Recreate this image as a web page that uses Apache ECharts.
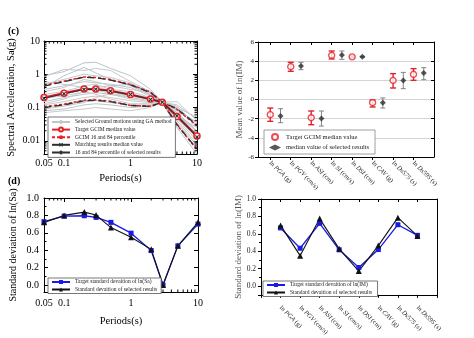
<!DOCTYPE html>
<html><head><meta charset="utf-8">
<script src="https://cdn.jsdelivr.net/npm/echarts@6/dist/echarts.min.js"></script>
<style>html,body{margin:0;padding:0;background:#fff}#c{width:474px;height:338px}</style>
</head><body><div id="c"></div>
<script>
// ---------- DATA ----------
const periods = [0.05, 0.1, 0.2, 0.3, 0.5, 1, 2, 3, 5, 10];
const targetMedian = [0.2, 0.27, 0.36, 0.36, 0.32, 0.245, 0.18, 0.145, 0.054, 0.014];
const target84 = [0.46, 0.62, 0.83, 0.8, 0.69, 0.49, 0.29, 0.145, 0.088, 0.028];
const target16 = [0.105, 0.126, 0.166, 0.17, 0.155, 0.115, 0.11, 0.145, 0.03, 0.0054];
const selMedian = [0.19, 0.26, 0.35, 0.355, 0.31, 0.245, 0.175, 0.145, 0.056, 0.013];
const sel84 = [0.44, 0.6, 0.82, 0.78, 0.67, 0.48, 0.28, 0.145, 0.092, 0.03];
const sel16 = [0.1, 0.12, 0.16, 0.165, 0.15, 0.115, 0.108, 0.145, 0.031, 0.0056];
const groundMotions = [
  [0.9, 1.2, 2.2, 2.3, 1.5, 0.9, 0.35, 0.145, 0.05, 0.012],
  [0.85, 1.4, 1.3, 1.5, 1.3, 0.6, 0.3, 0.145, 0.06, 0.02],
  [0.5, 0.7, 1.0, 0.9, 0.8, 0.55, 0.25, 0.145, 0.08, 0.03],
  [0.35, 0.45, 0.6, 0.55, 0.5, 0.4, 0.22, 0.145, 0.1, 0.05],
  [0.25, 0.3, 0.45, 0.5, 0.35, 0.3, 0.2, 0.145, 0.07, 0.02],
  [0.2, 0.22, 0.3, 0.35, 0.3, 0.22, 0.17, 0.145, 0.04, 0.008],
  [0.15, 0.2, 0.25, 0.28, 0.25, 0.2, 0.16, 0.145, 0.09, 0.035],
  [0.12, 0.15, 0.2, 0.22, 0.2, 0.16, 0.14, 0.145, 0.03, 0.006],
  [0.1, 0.12, 0.15, 0.16, 0.14, 0.12, 0.12, 0.145, 0.12, 0.045],
  [0.08, 0.09, 0.12, 0.13, 0.12, 0.1, 0.11, 0.145, 0.025, 0.004],
  [0.07, 0.08, 0.09, 0.1, 0.09, 0.08, 0.1, 0.145, 0.065, 0.015],
  [0.3, 0.4, 0.7, 0.6, 0.45, 0.35, 0.28, 0.145, 0.045, 0.01],
  [0.18, 0.25, 0.35, 0.4, 0.45, 0.5, 0.3, 0.145, 0.055, 0.025],
  [0.6, 0.5, 0.4, 0.35, 0.25, 0.18, 0.15, 0.145, 0.035, 0.007],
  [0.13, 0.18, 0.3, 0.25, 0.18, 0.13, 0.13, 0.145, 0.15, 0.04],
  [0.4, 0.9, 1.6, 1.1, 0.7, 0.45, 0.24, 0.145, 0.07, 0.018],
  [0.09, 0.11, 0.14, 0.2, 0.26, 0.22, 0.19, 0.145, 0.11, 0.028]
];
const imNames = ['ln PGA (g)', 'ln PGV (cm/s)', 'ln ASI (cm)', 'ln SI (cm/s)', 'ln DSI (cm)', 'ln CAV (g)', 'ln Ds575 (s)', 'ln Ds595 (s)'];
const targetMean = [-1.58, 3.43, -1.9, 4.61, 4.45, -0.33, 2.0, 2.63];
const targetLow = [-2.28, 2.94, -2.63, 4.23, 4.35, -0.78, 1.2, 2.0];
const targetHigh = [-0.89, 3.88, -1.2, 5.06, 4.55, -0.05, 2.7, 3.22];
const selMean = [-1.72, 3.5, -1.97, 4.64, 4.45, -0.33, 1.97, 2.77];
const selLow = [-2.42, 3.11, -2.77, 4.19, 4.4, -0.89, 1.13, 2.07];
const selHigh = [-0.96, 3.88, -1.2, 5.06, 4.5, 0.16, 2.83, 3.32];
const sdTargetSa = [0.728, 0.792, 0.796, 0.777, 0.72, 0.596, 0.396, 0.0, 0.45, 0.70];
const sdSelSa = [0.72, 0.8, 0.838, 0.804, 0.66, 0.55, 0.41, 0.0, 0.45, 0.72];
const sdTargetIM = [0.668, 0.435, 0.72, 0.417, 0.214, 0.42, 0.705, 0.583];
const sdSelIM = [0.697, 0.35, 0.775, 0.428, 0.173, 0.465, 0.786, 0.576];
const cTicksX = [0.05, 0.1, 1, 10];
const cTicksY = [0.01, 0.1, 1, 10];

// ---------- HELPERS ----------
const F = 'Liberation Serif';
const RED = '#e3222a', DARK = '#2e2e2e', BLUE = '#1a1ae6';
const pick = (list) => (v) => {
  for (const l of list) if (Math.abs(Math.log10(v) - Math.log10(l)) < 0.01) return String(l);
  return '';
};
function minorValues(lo, hi) {
  const out = [];
  for (let k = -4; k <= 2; k++) for (let m = 2; m <= 9; m++) {
    const v = +(m * Math.pow(10, k)).toPrecision(3);
    if (v > lo * 1.0001 && v < hi * 0.9999) out.push(v);
  }
  return out;
}
function minorXSeries(xi, yi, vals, yv) {
  return { type: 'custom', xAxisIndex: xi, yAxisIndex: yi, silent: true, z: 5, clip: false,
    data: vals.map(v => [v, yv]),
    renderItem: (p, api) => {
      const cs = p.coordSys; const x = api.coord([api.value(0), api.value(1)])[0];
      return { type: 'group', children: [
        { type: 'line', shape: { x1: x, y1: cs.y + cs.height, x2: x, y2: cs.y + cs.height - 2.5 }, style: { stroke: '#000', lineWidth: 1 } },
        { type: 'line', shape: { x1: x, y1: cs.y, x2: x, y2: cs.y + 2.5 }, style: { stroke: '#000', lineWidth: 1 } }
      ] };
    } };
}
function minorYSeries(xi, yi, vals, xv) {
  return { type: 'custom', xAxisIndex: xi, yAxisIndex: yi, silent: true, z: 5, clip: false,
    data: vals.map(v => [xv, v]),
    renderItem: (p, api) => {
      const cs = p.coordSys; const y = api.coord([api.value(0), api.value(1)])[1];
      return { type: 'group', children: [
        { type: 'line', shape: { x1: cs.x, y1: y, x2: cs.x + 2.5, y2: y }, style: { stroke: '#000', lineWidth: 1 } },
        { type: 'line', shape: { x1: cs.x + cs.width, y1: y, x2: cs.x + cs.width - 2.5, y2: y }, style: { stroke: '#000', lineWidth: 1 } }
      ] };
    } };
}
function errSeries(xi, yi, xs, lo, hi, color, w, cap) {
  return { type: 'custom', xAxisIndex: xi, yAxisIndex: yi, silent: true, z: 3,
    data: xs.map((x, i) => [x, lo[i], hi[i]]),
    encode: { x: 0, y: [1, 2] },
    renderItem: (p, api) => {
      const a = api.coord([api.value(0), api.value(1)]);
      const b = api.coord([api.value(0), api.value(2)]);
      const st = { stroke: color, lineWidth: w };
      return { type: 'group', children: [
        { type: 'line', shape: { x1: a[0], y1: a[1], x2: b[0], y2: b[1] }, style: st },
        { type: 'line', shape: { x1: a[0] - cap, y1: a[1], x2: a[0] + cap, y2: a[1] }, style: st },
        { type: 'line', shape: { x1: b[0] - cap, y1: b[1], x2: b[0] + cap, y2: b[1] }, style: st }
      ] };
    } };
}
const axLine = { show: true, onZero: false, lineStyle: { color: '#000', width: 1 } };
const richIM = { i: { fontStyle: 'italic', fontFamily: F, fontSize: 6.5, color: '#222' } };
function imLabel(v) {
  const i = Math.round(v);
  if (Math.abs(v - i) > 0.01 || i < 1 || i > 8) return '';
  const parts = imNames[i - 1].split(' ');
  return parts[0] + ' {i|' + parts[1] + '} ' + parts.slice(2).join(' ');
}
const pairs = (xs, ys) => xs.map((x, i) => [x, ys[i]]);
const idx = imNames.map((_, i) => i + 1);

// ---------- OPTION ----------
const option = {
  animation: false,
  backgroundColor: '#fff',
  grid: [
    { left: 44, top: 41, width: 153, height: 113 },
    { left: 258, top: 42, width: 176, height: 115 },
    { left: 44, top: 198, width: 154, height: 94 },
    { left: 261, top: 199, width: 176, height: 98 }
  ],
  xAxis: [
    { type: 'log', gridIndex: 0, min: 0.05, max: 10, axisLine: axLine, splitLine: { show: false },
      axisTick: { inside: true, length: 4, lineStyle: { color: '#000' } },
      axisLabel: { fontFamily: F, fontSize: 10, color: '#000', margin: 4, formatter: pick(cTicksX) },
      name: 'Periods(s)', nameLocation: 'middle', nameGap: 19, nameTextStyle: { fontFamily: F, fontSize: 10.5, color: '#000' } },
    { type: 'log', gridIndex: 0, position: 'top', min: 0.05, max: 10, axisLine: axLine, splitLine: { show: false },
      axisTick: { inside: true, length: 4, lineStyle: { color: '#000' } }, axisLabel: { show: false } },
    { type: 'value', gridIndex: 1, min: 0.4, max: 9, axisLine: axLine, splitLine: { show: false },
      axisTick: { customValues: idx, length: 3, lineStyle: { color: '#000' } },
      axisLabel: { customValues: idx, rotate: -45, fontFamily: F, fontSize: 6.5, color: '#222', margin: 5, formatter: imLabel, rich: richIM } },
    { type: 'value', gridIndex: 1, position: 'top', min: 0.4, max: 9, axisLine: axLine, splitLine: { show: false },
      axisTick: { customValues: idx, inside: true, length: 3, lineStyle: { color: '#000' } }, axisLabel: { show: false } },
    { type: 'log', gridIndex: 2, min: 0.05, max: 10, axisLine: axLine, splitLine: { show: false },
      axisTick: { inside: true, length: 4, lineStyle: { color: '#000' } },
      axisLabel: { fontFamily: F, fontSize: 10, color: '#000', margin: 6, formatter: pick(cTicksX) },
      name: 'Periods(s)', nameLocation: 'middle', nameGap: 24, nameTextStyle: { fontFamily: F, fontSize: 10.5, color: '#000' } },
    { type: 'log', gridIndex: 2, position: 'top', min: 0.05, max: 10, axisLine: axLine, splitLine: { show: false },
      axisTick: { inside: true, length: 4, lineStyle: { color: '#000' } }, axisLabel: { show: false } },
    { type: 'value', gridIndex: 3, min: 0, max: 9, interval: 1, axisLine: axLine, splitLine: { show: false },
      axisTick: { length: 3, lineStyle: { color: '#000' } },
      axisLabel: { rotate: -45, fontFamily: F, fontSize: 6.5, color: '#222', margin: 12, formatter: imLabel, rich: richIM, showMinLabel: true, showMaxLabel: true } },
    { type: 'value', gridIndex: 3, position: 'top', min: 0, max: 9, axisLine: axLine, splitLine: { show: false },
      axisTick: { customValues: idx, inside: true, length: 3, lineStyle: { color: '#000' } }, axisLabel: { show: false } }
  ],
  yAxis: [
    { type: 'log', gridIndex: 0, min: 0.004, max: 10, axisLine: axLine, splitLine: { show: false },
      axisTick: { inside: true, length: 4, lineStyle: { color: '#000' } },
      axisLabel: { fontFamily: F, fontSize: 10, color: '#000', margin: 4, formatter: pick(cTicksY) },
      name: 'Spectral Acceleration, Sa(g)', nameLocation: 'middle', nameGap: 27, nameTextStyle: { fontFamily: F, fontSize: 10.5, color: '#000' } },
    { type: 'log', gridIndex: 0, position: 'right', min: 0.004, max: 10, axisLine: axLine, splitLine: { show: false },
      axisTick: { inside: true, length: 4, lineStyle: { color: '#000' } }, axisLabel: { show: false } },
    { type: 'value', gridIndex: 1, min: -6, max: 6, interval: 2, axisLine: axLine,
      splitLine: { show: true, lineStyle: { color: '#d4d4d4', width: 1 } },
      axisTick: { length: 3, lineStyle: { color: '#000' } },
      axisLabel: { fontFamily: F, fontSize: 7, color: '#222', margin: 4 },
      name: 'Mean value of ln(IM)', nameLocation: 'middle', nameGap: 14, nameTextStyle: { fontFamily: F, fontSize: 9, color: '#555' } },
    { type: 'value', gridIndex: 1, position: 'right', min: -6, max: 6, interval: 2, axisLine: axLine, splitLine: { show: false },
      axisTick: { inside: true, length: 3, lineStyle: { color: '#000' } }, axisLabel: { show: false } },
    { type: 'value', gridIndex: 2, min: -0.08, max: 1, axisLine: axLine, splitLine: { show: false },
      axisTick: { inside: true, length: 4, lineStyle: { color: '#000' } },
      minorTick: { show: true, splitNumber: 2, length: 2.5, lineStyle: { color: '#000' } },
      axisLabel: { fontFamily: F, fontSize: 10, color: '#000', margin: 5, showMinLabel: false, formatter: v => v.toFixed(1) },
      name: 'Standard deviation of ln(Sa)', nameLocation: 'middle', nameGap: 26, nameTextStyle: { fontFamily: F, fontSize: 10, color: '#000' } },
    { type: 'value', gridIndex: 2, position: 'right', min: -0.08, max: 1, axisLine: axLine, splitLine: { show: false },
      axisTick: { inside: true, length: 4, lineStyle: { color: '#000' } }, axisLabel: { show: false } },
    { type: 'value', gridIndex: 3, min: -0.1, max: 1, axisLine: axLine, splitLine: { show: false },
      axisTick: { length: 3, lineStyle: { color: '#000' } },
      minorTick: { show: true, splitNumber: 2, length: 2, lineStyle: { color: '#000' } },
      axisLabel: { fontFamily: F, fontSize: 7.5, color: '#222', margin: 5, showMinLabel: false, formatter: v => v.toFixed(1) },
      name: 'Standard deviation of ln(IM)', nameLocation: 'middle', nameGap: 17, nameTextStyle: { fontFamily: F, fontSize: 9, color: '#555' } },
    { type: 'value', gridIndex: 3, position: 'right', min: -0.1, max: 1, axisLine: axLine, splitLine: { show: false },
      axisTick: { show: false }, axisLabel: { show: false } }
  ],
  legend: [
    { left: 48, top: 117, orient: 'vertical', itemGap: 1.6, itemWidth: 18, itemHeight: 5, padding: [2, 4, 2, 3],
      borderColor: '#555', borderWidth: 0.8, backgroundColor: '#fff', z: 20,
      textStyle: { fontFamily: F, fontSize: 5.5, color: '#222' },
      data: ['Selected Ground motions using GA method', 'Target GCIM median value', 'GCIM 16 and 84 percentile', 'Matching results median value', '16 and 84 percentile of selected results'] },
    { left: 264, top: 130, orient: 'vertical', itemGap: 3, itemWidth: 12, itemHeight: 6, padding: [3, 6, 3, 5],
      borderColor: '#888', borderWidth: 0.8, backgroundColor: '#fff', z: 20,
      textStyle: { fontFamily: F, fontSize: 6.5, color: '#222' },
      data: ['Target GCIM median value ', 'median value of selected results'] },
    { left: 48, top: 278, orient: 'vertical', itemGap: 1.5, itemWidth: 18, itemHeight: 5, padding: [1, 4, 1, 3],
      borderColor: '#555', borderWidth: 0.8, backgroundColor: '#fff', z: 20,
      textStyle: { fontFamily: F, fontSize: 5.5, color: '#222' },
      data: ['Target standard devaition of ln(Sa)', 'Standard devaition of selected results'] },
    { left: 263, top: 281, orient: 'vertical', itemGap: 1.5, itemWidth: 18, itemHeight: 5, padding: [1, 4, 1, 3],
      borderColor: '#555', borderWidth: 0.8, backgroundColor: '#fff', z: 20,
      textStyle: { fontFamily: F, fontSize: 5.5, color: '#222' },
      data: ['Target standard devaition of ln(IM)', 'Standard devaition of selected results '] }
  ],
  graphic: [
    { type: 'text', left: 8, top: 26, style: { text: '(c)', font: 'bold 10px "Liberation Serif"', fill: '#000' } },
    { type: 'text', left: 8, top: 176, style: { text: '(d)', font: 'bold 10px "Liberation Serif"', fill: '#000' } }
  ],
  series: []
};

// panel (c)
groundMotions.forEach((g, k) => option.series.push({
  name: 'Selected Ground motions using GA method', type: 'line', xAxisIndex: 0, yAxisIndex: 0,
  data: pairs(periods, g), symbol: 'none', silent: true,
  lineStyle: { color: k % 3 === 0 ? '#b7c6cf' : '#c9c9c9', width: 1 }, itemStyle: { color: '#c6c6c6' }
}));
[target84, target16].forEach(a => option.series.push({
  name: 'GCIM 16 and 84 percentile', type: 'line', xAxisIndex: 0, yAxisIndex: 0, data: pairs(periods, a), symbol: 'none',
  lineStyle: { color: RED, width: 1.6, type: [3, 2] }, itemStyle: { color: RED }
}));
[sel84, sel16].forEach(a => option.series.push({
  name: '16 and 84 percentile of selected results', type: 'line', xAxisIndex: 0, yAxisIndex: 0, data: pairs(periods, a), symbol: 'none',
  lineStyle: { color: DARK, width: 1.3, type: [7, 4] }, itemStyle: { color: DARK }
}));
option.series.push({
  name: 'Target GCIM median value', type: 'line', xAxisIndex: 0, yAxisIndex: 0, data: pairs(periods, targetMedian),
  symbol: 'circle', symbolSize: 6, lineStyle: { color: RED, width: 2.2 },
  itemStyle: { color: '#fff', borderColor: RED, borderWidth: 1.5 }
});
option.series.push({
  name: 'Matching results median value', type: 'line', xAxisIndex: 0, yAxisIndex: 0, data: pairs(periods, selMedian),
  symbol: 'path://M0,0.4L0.4,0L1,0.6L1.6,0L2,0.4L1.4,1L2,1.6L1.6,2L1,1.4L0.4,2L0,1.6L0.6,1Z', symbolSize: 4,
  lineStyle: { color: DARK, width: 1.1 }, itemStyle: { color: DARK }
});
option.series.push(minorXSeries(0, 0, minorValues(0.05, 10), 1));
option.series.push(minorYSeries(0, 0, minorValues(0.004, 10), 1));

// top right
option.series.push(errSeries(2, 2, idx, targetLow, targetHigh, RED, 1.4, 3));
option.series.push(errSeries(2, 2, idx.map(i => i + 0.5), selLow, selHigh, '#777', 0.9, 2.5));
option.series.push({
  name: 'Target GCIM median value ', type: 'scatter', xAxisIndex: 2, yAxisIndex: 2, z: 4,
  data: pairs(idx, targetMean), symbol: 'circle', symbolSize: 6,
  itemStyle: { color: '#fff', borderColor: RED, borderWidth: 1.4 }
});
option.series.push({
  name: 'median value of selected results', type: 'scatter', xAxisIndex: 2, yAxisIndex: 2, z: 4,
  data: pairs(idx.map(i => i + 0.5), selMean), symbol: 'diamond', symbolSize: 6,
  itemStyle: { color: DARK }
});

// panel (d)
option.series.push({
  name: 'Target standard devaition of ln(Sa)', type: 'line', xAxisIndex: 4, yAxisIndex: 4, data: pairs(periods, sdTargetSa),
  symbol: 'rect', symbolSize: 5, lineStyle: { color: BLUE, width: 1.3 }, itemStyle: { color: BLUE }
});
option.series.push({
  name: 'Standard devaition of selected results', type: 'line', xAxisIndex: 4, yAxisIndex: 4, data: pairs(periods, sdSelSa),
  symbol: 'triangle', symbolSize: 6, lineStyle: { color: '#111', width: 1.1 }, itemStyle: { color: '#111' }
});
option.series.push(minorXSeries(4, 4, minorValues(0.05, 10), 0.5));

// bottom right
option.series.push({
  name: 'Target standard devaition of ln(IM)', type: 'line', xAxisIndex: 6, yAxisIndex: 6, data: pairs(idx, sdTargetIM),
  symbol: 'rect', symbolSize: 5, lineStyle: { color: BLUE, width: 1.3 }, itemStyle: { color: BLUE }
});
option.series.push({
  name: 'Standard devaition of selected results ', type: 'line', xAxisIndex: 6, yAxisIndex: 6, data: pairs(idx, sdSelIM),
  symbol: 'triangle', symbolSize: 6, lineStyle: { color: '#111', width: 1.1 }, itemStyle: { color: '#111' }
});

const chart = echarts.init(document.getElementById('c'), null, { renderer: 'canvas' });
chart.setOption(option);
</script></body></html>
